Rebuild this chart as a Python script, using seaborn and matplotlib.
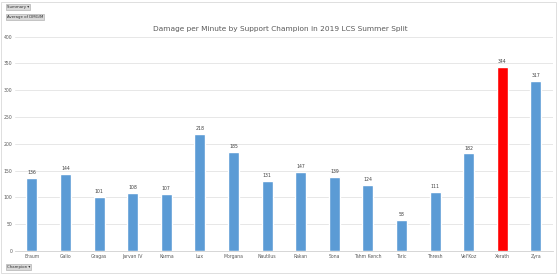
import matplotlib
matplotlib.use("Agg")
import matplotlib.pyplot as plt
import seaborn as sns
import pandas as pd

champions = ["Braum", "Galio", "Gragas", "Jarvan IV", "Karma", "Lux", "Morgana",
             "Nautilus", "Rakan", "Sona", "Tahm Kench", "Taric", "Thresh",
             "Vel'Koz", "Xerath", "Zyra"]
dpm = [136, 144, 101, 108, 107, 218, 185, 131, 147, 139, 124, 58, 111, 182, 344, 317]
highlight = "Xerath"

df = pd.DataFrame({"Champion": champions, "DPM": dpm})
df["hl"] = ["hl" if c == highlight else "base" for c in champions]

sns.set_theme(style="white")
plt.rcParams['font.family'] = ['DejaVu Sans']

fig = plt.figure(figsize=(5.6, 2.74), dpi=100)
ax = fig.add_axes([0.027, 0.084, 0.96, 0.782])

sns.barplot(data=df, x="Champion", y="DPM", hue="hl",
            palette={"base": "#5B9BD5", "hl": "#FF0000"},
            width=0.33, legend=False, ax=ax, dodge=False, saturation=1)

ax.set_ylim(0, 400)
ax.set_xlim(-0.5, len(champions) - 0.5)
ax.set_yticks(range(0, 401, 50))
ax.yaxis.grid(True, color="#e3e3e3", linewidth=0.6)
ax.set_axisbelow(True)
for s in ["top", "right", "left"]:
    ax.spines[s].set_visible(False)
ax.spines["bottom"].set_color("#d0d0d0")
ax.spines["bottom"].set_linewidth(0.6)
ax.tick_params(axis="both", length=0, labelsize=3.3, colors="#595959", pad=2)
ax.set_xlabel("")
ax.set_ylabel("")

for cont in ax.containers:
    ax.bar_label(cont, fmt="%d", fontsize=3.3, color="#404040", padding=2)

fig.text(0.5, 0.895, "Damage per Minute by Support Champion in 2019 LCS Summer Split",
         ha="center", va="center", fontsize=5.3, color="#595959")

box = dict(boxstyle="square,pad=0.25", fc="#d9d9d9", ec="#a6a6a6", lw=0.4)
fig.text(0.012, 0.975, "Summary ▾", fontsize=2.8, color="#303030", va="center", bbox=box)
fig.text(0.012, 0.938, "Average of DMG/M", fontsize=2.8, color="#303030", va="center", bbox=box)
fig.text(0.012, 0.027, "Champion ▾", fontsize=2.8, color="#303030", va="center", bbox=box)

fig.patches.append(plt.Rectangle((0.002, 0.004), 0.99, 0.99, transform=fig.transFigure,
                                 fill=False, ec="#d9d9d9", lw=0.6))

fig.savefig("out.png", dpi=100, facecolor="white")
